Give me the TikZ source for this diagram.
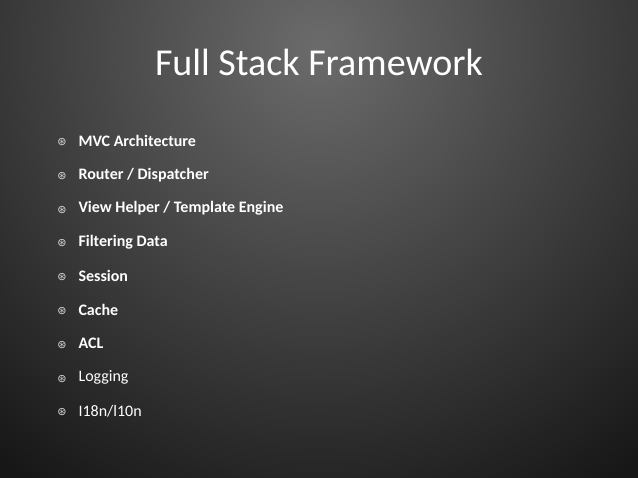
\documentclass[tikz,border=0pt]{standalone}
\usepackage{fontspec}
\setmainfont{Carlito}
\newfontfamily\symfont{DejaVu Sans}
\definecolor{SlideBg}{rgb}{0.09,0.09,0.09}
\definecolor{SlideLight}{rgb}{0.42,0.42,0.42}
\tikzset{
  item/.style={anchor=west,text=white,font=\fontsize{16}{18}\selectfont},
  bullet/.style={text=white!85!black,font=\symfont\fontsize{11}{12}\selectfont}
}
\begin{document}
\begin{tikzpicture}[x=1pt,y=1pt]
\useasboundingbox (0,0) rectangle (638,478);
\clip (0,0) rectangle (638,478);
\fill[SlideBg] (0,0) rectangle (638,478);
\shade[inner color=SlideLight,outer color=SlideBg] (319,430) circle (520);
\node[text=white,font=\fontsize{38}{44}\selectfont] (title) at (319,416) {Full Stack Framework};
\foreach \txt [count=\i] in {\bfseries MVC Architecture,\bfseries Router / Dispatcher,\bfseries View Helper / Template Engine,\bfseries Filtering Data,\bfseries Session,\bfseries Cache,\bfseries ACL,Logging,I18n/l10n}{
  \node[bullet] (b\i) at (62,{478-142-(\i-1)*33.8}) {⊛};
  \node[item] (t\i) at (75,{478-141-(\i-1)*33.8}) {\txt};
}
\end{tikzpicture}
\end{document}
